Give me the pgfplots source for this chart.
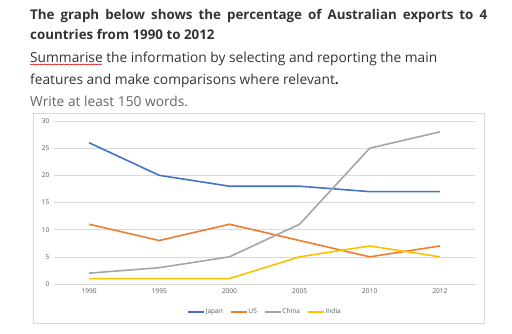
\documentclass[border=0pt]{standalone}
\usepackage{fontspec}
\setmainfont{Open Sans}
\usepackage{pgfplots}
\pgfplotsset{compat=1.18}
\usetikzlibrary{decorations.pathmorphing}
\definecolor{cJapan}{HTML}{4472C4}
\definecolor{cUS}{HTML}{ED7D31}
\definecolor{cChina}{HTML}{A5A5A5}
\definecolor{cIndia}{HTML}{FFC000}
\definecolor{gridgray}{HTML}{D9D9D9}
\definecolor{ticktxt}{HTML}{595959}
\definecolor{hdr}{HTML}{333333}
\definecolor{instr}{HTML}{666666}
\begin{document}
\begin{tikzpicture}
\fill[white] (0,0) rectangle (512bp,-334bp);
% header text
\node[anchor=base west, inner sep=0pt, text=hdr, font=\fontsize{13.4}{15}\selectfont\bfseries] at (30bp,-19bp)
  {\makebox[457bp][s]{The graph below shows the percentage of Australian exports to 4}};
\node[anchor=base west, inner sep=0pt, text=hdr, font=\fontsize{13.4}{15}\selectfont\bfseries] at (30bp,-39bp)
  {countries from 1990 to 2012};
\node[anchor=base west, inner sep=0pt, text=hdr, font=\fontsize{13.8}{15}\selectfont] at (30bp,-62bp)
  {Summarise the information by selecting and reporting the main};
\node[anchor=base west, inner sep=0pt, text=hdr, font=\fontsize{13.8}{15}\selectfont] at (30bp,-84bp)
  {features and make comparisons where relevant\textbf{.}};
\node[anchor=base west, inner sep=0pt, text=instr, font=\fontsize{13.8}{15}\selectfont] at (30bp,-106bp)
  {Write at least 150 words.};
\draw[red!80!black, line width=0.5pt, decorate, decoration={snake, amplitude=0.6bp, segment length=2.5bp}] (30bp,-64.5bp) -- (102bp,-64.5bp);
% chart border
\draw[gridgray, line width=0.6pt] (33bp,-113bp) rectangle (484bp,-323bp);
\begin{axis}[
  at={(54bp,-284bp)}, anchor=south west,
  scale only axis, width=421bp, height=163bp,
  xmin=-0.5, xmax=5.5, ymin=0, ymax=30,
  xtick={0,1,2,3,4,5},
  xticklabels={1990,1995,2000,2005,2010,2012},
  ytick={0,5,10,15,20,25,30},
  ymajorgrids, grid style={draw=gridgray, line width=0.6pt},
  axis line style={draw=none},
  tick style={draw=none},
  /pgf/number format/assume math mode=true,
  ticklabel style={font=\fontsize{6.6}{7.5}\selectfont, text=ticktxt},
  yticklabel style={xshift=-1bp},
  xticklabel style={yshift=-1bp},
  legend style={at={(0.5,-0.172)}, anchor=center, draw=none, fill=none,
    font=\fontsize{6.6}{7.5}\selectfont, text=ticktxt,
    /tikz/every even column/.append style={column sep=6bp},
    inner sep=0pt, nodes={inner xsep=1bp}},
  legend columns=4,
  legend image code/.code={\draw[#1, line width=1.6pt] (0bp,0bp) -- (16bp,0bp);},
  every axis plot/.append style={line width=1.6bp, line join=round},
]
\addplot[cJapan] coordinates {(0,26) (1,20) (2,18) (3,18) (4,17) (5,17)};
\addlegendentry{Japan}
\addplot[cUS] coordinates {(0,11) (1,8) (2,11) (3,8) (4,5) (5,7)};
\addlegendentry{US}
\addplot[cChina] coordinates {(0,2) (1,3) (2,5) (3,11) (4,25) (5,28)};
\addlegendentry{China}
\addplot[cIndia] coordinates {(0,1) (1,1) (2,1) (3,5) (4,7) (5,5)};
\addlegendentry{India}
\end{axis}
\end{tikzpicture}
\end{document}
